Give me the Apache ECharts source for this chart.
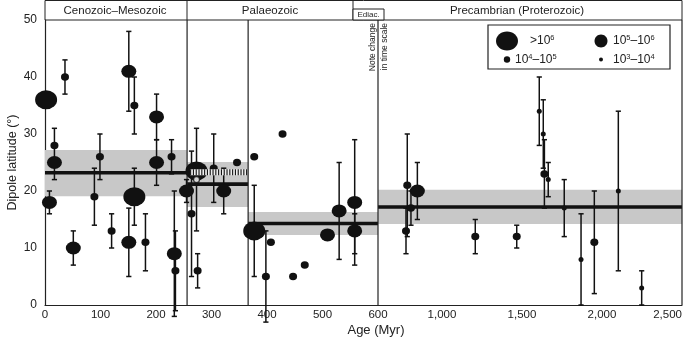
<!DOCTYPE html>
<html><head><meta charset="utf-8">
<script src="https://cdn.jsdelivr.net/npm/echarts@6/dist/echarts.min.js"></script>
<style>html,body{margin:0;padding:0;background:#fff}#c{width:685px;height:343px}</style>
</head><body><div id="c"></div>
<script>
// ---------- DATA ----------
// Phanerozoic + Ediacaran poles (0–600 Myr, expanded time scale)
const phanAge = [2, 17, 17, 36, 8, 51, 89, 99, 120, 151, 151, 161, 161, 181, 201, 201, 228, 233, 235, 255, 264, 273, 275, 304, 322, 346, 377, 377, 398, 407, 428, 447, 468, 509, 530, 558, 558];
const phanLat = [36, 28, 25, 40, 18, 10, 19, 26, 13, 41, 11, 35, 19, 11, 33, 25, 26, 9, 6, 20, 16, 23.5, 6, 24, 20, 25, 26, 13, 5, 11, 30, 5, 7, 12.3, 16.5, 18, 13];
const phanLo  = [null, null, 22, 37, 16, 7, 14, 22, 10, 34, 5, 30, 14, 6, 29, 21, 23, -2, -1, 18, 5, 13, 3, 18, 16, null, null, 5, -3, null, null, null, null, null, 8, 9, 7];
const phanHi  = [null, null, 31, 43, 20, 13, 24, 30, 16, 48, 17, 40, 24, 16, 37, 29, 29, 20, 13, 22, 27, 31, 9, 30, 24, null, null, 21, 13, null, null, null, null, null, 25, 29, 16];
// size class: B >10^6, M 10^5–10^6, S 10^4–10^5, T 10^3–10^4
const phanSize = ['B','S','M','S','M','M','S','S','S','M','M','S','B','S','M','M','S','M','S','M','S','B','S','S','M','S','S','B','S','S','S','S','S','M','M','M','M'];
// open symbol
const openAge = [273];
const openLat = [22];

// Precambrian poles (600–2,500 Myr, compressed time scale)
const preAge = [775, 783, 806, 846, 1208, 1467, 1608, 1633, 1640, 1664, 1764, 1869, 1952, 2102, 2248];
const preLat = [13, 21, 17, 20, 12, 12, 34, 30, 23, 22, 17, 8, 11, 20, 3];
const preLo  = [9, 12, 14, 15, 9, 10, 28, 24, 17, 19, 12, 0, 2, 6, 0];
const preHi  = [17, 30, 20, 25, 15, 14, 40, 36, 29, 25, 22, 16, 20, 34, 6];
const preSize = ['S','S','S','M','S','S','T','T','S','T','T','T','S','T','T'];

// Mean dipole latitude per interval with 95% band
const bandStart = [0, 256, 366, 600];
const bandEnd   = [256, 366, 600, 2500];
const bandLo    = [19.1, 17.2, 12.3, 14.2];
const bandHi    = [27.2, 25.1, 16.3, 20.2];
const bandMean  = [23.2, 21.2, 14.3, 17.2];
// hatched alternative mean (Palaeozoic upper)
const hatchStart = [256], hatchEnd = [366], hatchMean = [23.3];

// Era boundaries (Myr)
const eraLines1 = [256, 366, 600];
const eraLines2 = [2500];

const yTicks = [0, 10, 20, 30, 40, 50];
const xTicks2 = [1000, 1500, 2000, 2500];

// ---------- STYLE ----------
const FONT = '"Liberation Sans", Arial, Helvetica, sans-serif';
const INK = '#111';
const SIZES = { B: [22, 19], M: [15, 13], S: [8, 7.5], T: [5, 5] };

function bandSeries(idx, list) {
  return {
    type: 'custom', xAxisIndex: idx, yAxisIndex: idx, z: 1, silent: true,
    data: list,
    renderItem: (p, api) => {
      const a = api.coord([api.value(0), api.value(3)]);
      const b = api.coord([api.value(1), api.value(2)]);
      return { type: 'rect', shape: { x: a[0], y: a[1], width: b[0] - a[0], height: b[1] - a[1] }, style: { fill: '#c8c8c8' } };
    }
  };
}
function meanSeries(idx, list) {
  return {
    type: 'custom', xAxisIndex: idx, yAxisIndex: idx, z: 3, silent: true,
    data: list,
    renderItem: (p, api) => {
      const a = api.coord([api.value(0), api.value(2)]);
      const b = api.coord([api.value(1), api.value(2)]);
      return { type: 'line', shape: { x1: a[0], y1: a[1], x2: b[0], y2: b[1] }, style: { stroke: INK, lineWidth: 3.6 } };
    }
  };
}
function vlineSeries(idx, list) {
  return {
    type: 'custom', xAxisIndex: idx, yAxisIndex: idx, z: 4, silent: true,
    data: list.map(v => [v]),
    renderItem: (p, api) => {
      const a = api.coord([api.value(0), 0]);
      const b = api.coord([api.value(0), 50]);
      return { type: 'line', shape: { x1: a[0], y1: a[1], x2: b[0], y2: b[1] }, style: { stroke: '#222', lineWidth: 1.2 } };
    }
  };
}
function errSeries(idx, ages, lo, hi) {
  const d = [];
  ages.forEach((a, i) => { if (lo[i] !== null) d.push([a, lo[i], hi[i]]); });
  return {
    type: 'custom', xAxisIndex: idx, yAxisIndex: idx, z: 5, silent: true, clip: false,
    data: d,
    renderItem: (p, api) => {
      const a = api.coord([api.value(0), api.value(1)]);
      const b = api.coord([api.value(0), api.value(2)]);
      const st = { stroke: INK, lineWidth: 1.5 };
      return { type: 'group', children: [
        { type: 'line', shape: { x1: a[0], y1: a[1], x2: b[0], y2: b[1] }, style: st },
        { type: 'line', shape: { x1: a[0] - 2.6, y1: a[1], x2: a[0] + 2.6, y2: a[1] }, style: st },
        { type: 'line', shape: { x1: b[0] - 2.6, y1: b[1], x2: b[0] + 2.6, y2: b[1] }, style: st }
      ]};
    }
  };
}
function dotSeries(idx, ages, lats, sizes) {
  return {
    type: 'scatter', xAxisIndex: idx, yAxisIndex: idx, z: 6, silent: true, clip: false,
    data: ages.map((a, i) => [a, lats[i]]),
    symbol: 'circle',
    symbolSize: (v, p) => SIZES[sizes[p.dataIndex]],
    itemStyle: { color: INK, opacity: 1 }
  };
}

const chart = echarts.init(document.getElementById('c'), null, { renderer: 'canvas' });
const xLbl = { color: '#222', fontFamily: FONT, fontSize: 11.5 };
const yLbl = { color: '#222', fontFamily: FONT, fontSize: 12 };

const option = {
  animation: false,
  backgroundColor: '#fff',
  grid: [
    { left: 45, top: 20, width: 333, height: 285 },
    { left: 378, top: 20, width: 304, height: 285 }
  ],
  xAxis: [
    { gridIndex: 0, type: 'value', min: 0, max: 600, interval: 100,
      axisLine: { show: true, lineStyle: { color: '#222', width: 1.2 } },
      axisTick: { show: false }, splitLine: { show: false },
      axisLabel: Object.assign({ margin: 4 }, xLbl) },
    { gridIndex: 1, type: 'value', min: 600, max: 2500,
      axisLine: { show: true, lineStyle: { color: '#222', width: 1.2 } },
      axisTick: { show: false }, splitLine: { show: false },
      axisLabel: Object.assign({ margin: 4, customValues: xTicks2, alignMaxLabel: 'right',
        formatter: v => Number(v).toLocaleString('en-US') }, xLbl) }
  ],
  yAxis: [
    { gridIndex: 0, type: 'value', min: 0, max: 50, interval: 10,
      axisLine: { show: true, lineStyle: { color: '#222', width: 1.2 } },
      axisTick: { show: false }, splitLine: { show: false },
      axisLabel: Object.assign({ margin: 8, customValues: yTicks }, yLbl),
      name: 'Dipole latitude (°)', nameLocation: 'middle', nameGap: 26,
      nameTextStyle: { color: '#222', fontFamily: FONT, fontSize: 12.5 } },
    { gridIndex: 1, type: 'value', min: 0, max: 50, show: false }
  ],
  series: [
    bandSeries(0, bandStart.slice(0, 3).map((s, i) => [s, bandEnd[i], bandLo[i], bandHi[i]])),
    bandSeries(1, [[bandStart[3], bandEnd[3], bandLo[3], bandHi[3]]]),
    meanSeries(0, bandStart.slice(0, 3).map((s, i) => [s, bandEnd[i], bandMean[i]])),
    meanSeries(1, [[bandStart[3], bandEnd[3], bandMean[3]]]),
    vlineSeries(0, eraLines1),
    vlineSeries(1, eraLines2),
    errSeries(0, phanAge, phanLo, phanHi),
    errSeries(1, preAge, preLo, preHi),
    dotSeries(0, phanAge, phanLat, phanSize),
    dotSeries(1, preAge, preLat, preSize),
    { // hatched mean line
      type: 'custom', xAxisIndex: 0, yAxisIndex: 0, z: 7, silent: true,
      data: hatchStart.map((s, i) => [s, hatchEnd[i], hatchMean[i]]),
      renderItem: (p, api) => {
        const a = api.coord([api.value(0), api.value(2)]);
        const b = api.coord([api.value(1), api.value(2)]);
        const sh = { x1: a[0] + 3, y1: a[1], x2: b[0] - 1, y2: b[1] };
        return { type: 'group', children: [
          { type: 'line', shape: sh, style: { stroke: '#eee', lineWidth: 6 } },
          { type: 'line', shape: sh, style: { stroke: INK, lineWidth: 6, lineDash: [1.1, 1.7] } }
        ]};
      }
    },
    { // open symbol
      type: 'scatter', xAxisIndex: 0, yAxisIndex: 0, z: 8, silent: true,
      data: openAge.map((a, i) => [a, openLat[i]]),
      symbol: 'circle', symbolSize: 6,
      itemStyle: { color: '#fff', borderColor: INK, borderWidth: 1.3 }
    }
  ],
  graphic: [
    // header
    { type: 'rect', shape: { x: 45, y: 0.5, width: 637, height: 19.5 }, style: { fill: 'none', stroke: '#222', lineWidth: 1 } },
    { type: 'line', shape: { x1: 187, y1: 0, x2: 187, y2: 20 }, style: { stroke: '#222', lineWidth: 1 } },
    { type: 'line', shape: { x1: 353, y1: 0, x2: 353, y2: 20 }, style: { stroke: '#222', lineWidth: 1 } },
    { type: 'rect', shape: { x: 353, y: 9, width: 31, height: 11 }, style: { fill: '#fff', stroke: '#222', lineWidth: 1 } },
    { type: 'text', x: 115, y: 10.5, style: { text: 'Cenozoic–Mesozoic', font: '11.5px ' + FONT, fill: '#222', align: 'center', verticalAlign: 'middle' } },
    { type: 'text', x: 270, y: 10.5, style: { text: 'Palaeozoic', font: '11.5px ' + FONT, fill: '#222', align: 'center', verticalAlign: 'middle' } },
    { type: 'text', x: 368.5, y: 15, style: { text: 'Ediac.', font: '8px ' + FONT, fill: '#222', align: 'center', verticalAlign: 'middle' } },
    { type: 'text', x: 517, y: 10.5, style: { text: 'Precambrian (Proterozoic)', font: '11.5px ' + FONT, fill: '#222', align: 'center', verticalAlign: 'middle' } },
    // note
    { type: 'text', x: 373, y: 23, rotation: Math.PI / 2, style: { text: 'Note change', font: '8.5px ' + FONT, fill: '#222', align: 'right', verticalAlign: 'middle' } },
    { type: 'text', x: 385, y: 23, rotation: Math.PI / 2, style: { text: 'in time scale', font: '8.5px ' + FONT, fill: '#222', align: 'right', verticalAlign: 'middle' } },
    // x axis title
    { type: 'text', x: 376, y: 330, style: { text: 'Age (Myr)', font: '13px ' + FONT, fill: '#222', align: 'center', verticalAlign: 'middle' } },
    // legend
    { type: 'rect', shape: { x: 488, y: 25, width: 182, height: 44 }, style: { fill: '#fff', stroke: '#222', lineWidth: 1.2 } },
    { type: 'ellipse', shape: { cx: 507, cy: 41, rx: 11, ry: 9.5 }, style: { fill: INK } },
    { type: 'ellipse', shape: { cx: 601, cy: 41, rx: 6.5, ry: 6.5 }, style: { fill: INK } },
    { type: 'circle', shape: { cx: 507, cy: 59.5, r: 3.2 }, style: { fill: INK } },
    { type: 'circle', shape: { cx: 601, cy: 59.5, r: 2 }, style: { fill: INK } },
    { type: 'text', x: 530, y: 41, style: { text: '>10{s|6}', font: '12px ' + FONT, fill: '#222', verticalAlign: 'middle', rich: { s: { fontSize: 7.5, verticalAlign: 'top', padding: [0, 0, 6, 0] } } } },
    { type: 'text', x: 613, y: 41, style: { text: '10{s|5}–10{s|6}', font: '12px ' + FONT, fill: '#222', verticalAlign: 'middle', rich: { s: { fontSize: 7.5, verticalAlign: 'top', padding: [0, 0, 6, 0] } } } },
    { type: 'text', x: 515, y: 59.5, style: { text: '10{s|4}–10{s|5}', font: '12px ' + FONT, fill: '#222', verticalAlign: 'middle', rich: { s: { fontSize: 7.5, verticalAlign: 'top', padding: [0, 0, 6, 0] } } } },
    { type: 'text', x: 613, y: 59.5, style: { text: '10{s|3}–10{s|4}', font: '12px ' + FONT, fill: '#222', verticalAlign: 'middle', rich: { s: { fontSize: 7.5, verticalAlign: 'top', padding: [0, 0, 6, 0] } } } }
  ]
};
chart.setOption(option);
</script>
</body></html>
